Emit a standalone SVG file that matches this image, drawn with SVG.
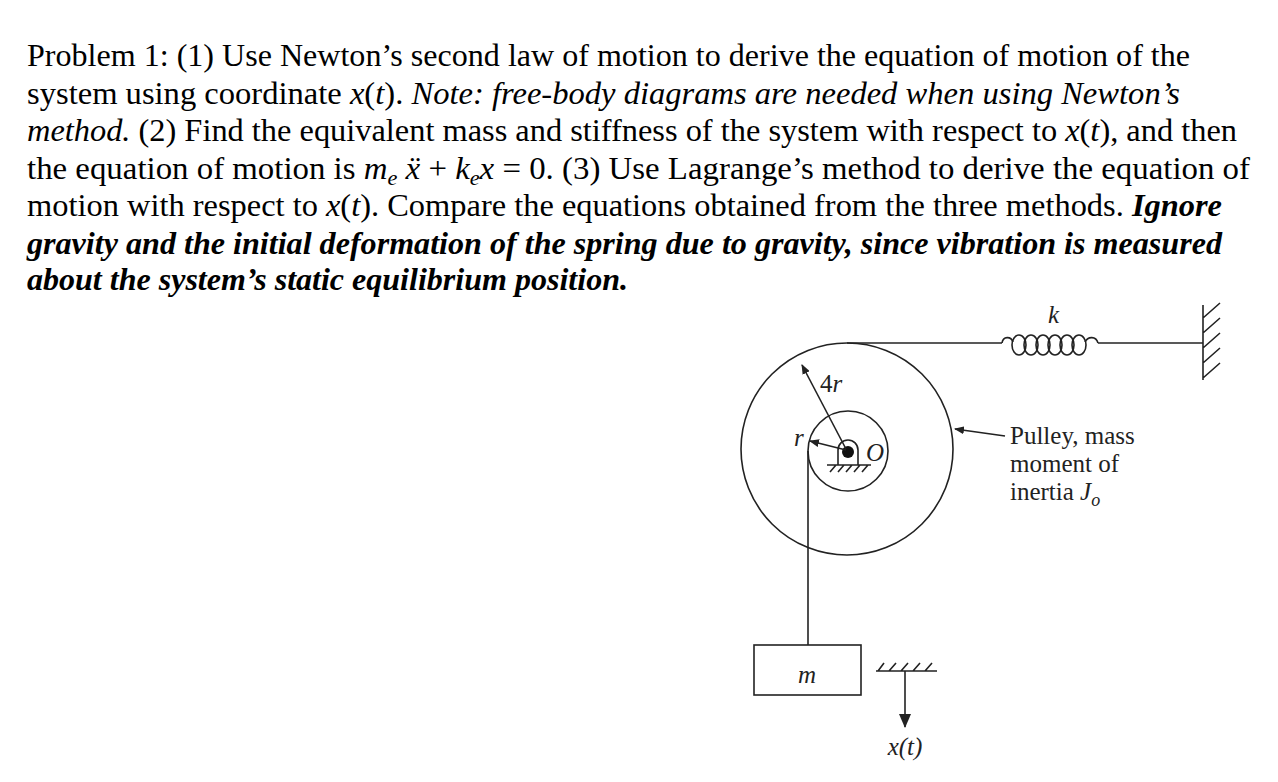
<svg xmlns="http://www.w3.org/2000/svg" width="1278" height="782" viewBox="0 0 1278 782">
<style>
.t{font-family:"Liberation Serif",serif;font-size:31px;fill:#000}
.i{font-style:italic}
.b{font-weight:bold;font-style:italic}
.l{font-family:"Liberation Serif",serif;font-size:25px;fill:#222}
.s{stroke:#222;stroke-width:1.6;fill:none}
</style>
<defs><marker id="a" markerWidth="10" markerHeight="8" refX="9" refY="4" orient="auto" markerUnits="userSpaceOnUse"><path d="M0,0 L10,4 L0,8z" fill="#222"/></marker>
<marker id="a2" markerWidth="14" markerHeight="12" refX="13" refY="6" orient="auto" markerUnits="userSpaceOnUse"><path d="M0,0 L14,6 L0,12z" fill="#222"/></marker></defs>
<rect width="1278" height="782" fill="#fff"/>
<g id="text">
<text class="t" x="27" y="66" textLength="1163" lengthAdjust="spacingAndGlyphs">Problem 1: (1) Use Newton’s second law of motion to derive the equation of motion of the</text>
<text class="t" x="27" y="104" textLength="1153" lengthAdjust="spacingAndGlyphs">system using coordinate <tspan class="i">x</tspan>(<tspan class="i">t</tspan>). <tspan class="i">Note: free-body diagrams are needed when using Newton’s</tspan></text>
<text class="t" x="27" y="141" textLength="1210" lengthAdjust="spacingAndGlyphs"><tspan class="i">method.</tspan> (2) Find the equivalent mass and stiffness of the system with respect to <tspan class="i">x</tspan>(<tspan class="i">t</tspan>), and then</text>
<text class="t" x="27" y="179" textLength="1223" lengthAdjust="spacingAndGlyphs">the equation of motion is <tspan class="i">m</tspan><tspan class="i" font-size="21" dy="6">e</tspan><tspan class="i" dy="-6"> ẍ</tspan> + <tspan class="i">k</tspan><tspan class="i" font-size="21" dy="6">e</tspan><tspan class="i" dy="-6">x</tspan> = 0. (3) Use Lagrange’s method to derive the equation of</text>
<text class="t" x="27" y="216" textLength="1195" lengthAdjust="spacingAndGlyphs">motion with respect to <tspan class="i">x</tspan>(<tspan class="i">t</tspan>). Compare the equations obtained from the three methods. <tspan class="b">Ignore</tspan></text>
<text class="t b" x="27" y="254" textLength="1195" lengthAdjust="spacingAndGlyphs">gravity and the initial deformation of the spring due to gravity, since vibration is measured</text>
<text class="t b" x="27" y="290" textLength="601" lengthAdjust="spacingAndGlyphs">about the system’s static equilibrium position.</text>
</g>
<g id="pulley">
<circle class="s" cx="847" cy="449" r="106"/>
<circle class="s" cx="848" cy="451" r="40"/>
<path class="s" d="M838,465 V450 A10,10 0 0 1 858,450 V465 M827,465 H871 M830,472 L836,465 M838,472 L844,465 M846,472 L852,465 M854,472 L860,465 M862,472 L868,465"/>
<circle cx="848" cy="452" r="6" fill="#111"/>
<text class="l i" x="866" y="461" font-size="26">O</text>
<line class="s" x1="846" y1="449" x2="802" y2="365" marker-end="url(#a)"/>
<text class="l" x="820" y="392"><tspan>4</tspan><tspan class="i">r</tspan></text>
<line class="s" x1="846" y1="450" x2="810" y2="441" marker-end="url(#a)"/>
<text class="l i" x="794" y="446">r</text>
</g>
<g id="spring">
<path class="s" d="M1002,343 C1003,336 1011,336 1013,342"/>
<ellipse class="s" cx="1019" cy="345" rx="7" ry="10"/>
<ellipse class="s" cx="1031" cy="345" rx="7" ry="10"/>
<ellipse class="s" cx="1043" cy="345" rx="7" ry="10"/>
<ellipse class="s" cx="1055" cy="345" rx="7" ry="10"/>
<ellipse class="s" cx="1067" cy="345" rx="7" ry="10"/>
<ellipse class="s" cx="1079" cy="345" rx="7" ry="10"/>
<path class="s" d="M1085,342 C1088,336 1096,336 1098,343"/>
<text class="l i" x="1048" y="323">k</text>
</g>
<g id="wall">
<path class="s" d="M1203,305 V380 M1203,318 L1220,303 M1203,333 L1220,318 M1203,348 L1220,333 M1203,363 L1220,348 M1203,378 L1220,363"/>
</g>
<g id="mass">
<rect class="s" x="754" y="645" width="107" height="50"/>
<text class="l i" x="807" y="683" text-anchor="middle" font-size="26">m</text>
</g>
<g id="ground">
<path class="s" d="M876,671 H937 M878,671 L884,663 M889,671 L896,663 M901,671 L908,663 M913,671 L920,663 M925,671 L932,663"/>
<text class="l i" x="905" y="755" text-anchor="middle">x(t)</text>
</g>
<g id="label">
<text class="l" x="1010" y="444">Pulley, mass</text>
<text class="l" x="1010" y="472">moment of</text>
<text class="l" x="1010" y="500">inertia <tspan class="i">J</tspan><tspan class="i" font-size="18" dy="6">o</tspan></text>
</g>
<g id="connectors">
<line class="s" x1="847" y1="343" x2="1002" y2="343"/>
<line class="s" x1="1098" y1="343" x2="1203" y2="343"/>
<line class="s" x1="808" y1="451" x2="808" y2="645"/>
<line class="s" x1="1005" y1="436" x2="955" y2="429" marker-end="url(#a)"/>
<line class="s" x1="905" y1="671" x2="905" y2="727" stroke-width="2" marker-end="url(#a2)"/>
</g>
</svg>
